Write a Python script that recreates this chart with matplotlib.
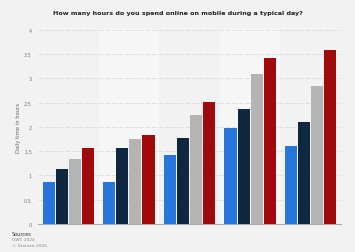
import matplotlib.pyplot as plt
import numpy as np

# ---- data ----
groups = ['G1', 'G2', 'G3', 'G4', 'G5']
series_names = ['S1', 'S2', 'S3', 'S4']
s1 = [0.87, 0.87, 1.43, 1.97, 1.60]
s2 = [1.13, 1.57, 1.78, 2.38, 2.11]
s3 = [1.35, 1.76, 2.24, 3.10, 2.85]
s4 = [1.57, 1.84, 2.52, 3.43, 3.59]
colors = ['#2876dd', '#0f2741', '#b4b4b4', '#a10a0a']
yticks = [0, 0.5, 1, 1.5, 2, 2.5, 3, 3.5, 4]
ytick_labels = ['0', '0.5', '1', '1.5', '2', '2.5', '3', '3.5', '4']

bg = '#f2f2f2'
fig = plt.figure(figsize=(3.55, 2.53), dpi=100, facecolor=bg)
ax = fig.add_axes([38 / 355, 28 / 253, 303 / 355, 195 / 253])
ax.set_facecolor(bg)

x = np.arange(len(groups))
width = 0.2
for i, (vals, c) in enumerate(zip([s1, s2, s3, s4], colors)):
    ax.bar(x + (i - 1.5) * (width + 0.015), vals, width=width, color=c,
           edgecolor='none', zorder=3, label=series_names[i])

# alternating lighter bands
for g in x:
    if g % 2 == 1:
        ax.axvspan(g - 0.5, g + 0.5, color='#f7f7f7', zorder=0, lw=0)

ax.set_xlim(-0.5, len(groups) - 0.5)
ax.set_ylim(0, 4.02)
ax.set_yticks(yticks)
ax.set_yticklabels(ytick_labels)
ax.set_xticks([])
ax.tick_params(axis='y', length=0, labelsize=3.5, labelcolor='#777777', pad=4.5)
ax.grid(axis='y', color='#dcdcdc', linestyle=(0, (6, 2)), linewidth=0.6, zorder=1)
for side in ['top', 'right', 'left']:
    ax.spines[side].set_visible(False)
ax.spines['bottom'].set_color('#aaaaaa')
ax.spines['bottom'].set_linewidth(0.8)
ax.set_ylabel('Daily time in hours', fontsize=3.8, color='#666666', labelpad=2)

fig.text(178 / 355, 1 - 13 / 253,
         'How many hours do you spend online on mobile during a typical day?',
         ha='center', va='center', fontsize=4.6, fontweight='bold', color='#222222')

fig.text(12 / 355, 1 - 235 / 253, 'Sources', fontsize=3.6, color='#333333', va='center')
fig.text(12 / 355, 1 - 240.5 / 253, 'GWI; 2024', fontsize=3.2, color='#888888', va='center')
fig.text(12 / 355, 1 - 246 / 253, '© Statista 2025', fontsize=3.2, color='#888888', va='center')

plt.savefig('out.png', dpi=100, facecolor=bg)
